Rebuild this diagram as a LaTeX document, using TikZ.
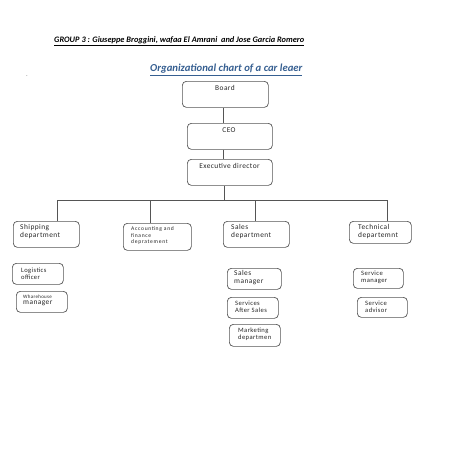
\documentclass[tikz,border=0pt]{standalone}
\usepackage{fontspec}
\setmainfont{Carlito}
\newfontfamily\spaced[LetterSpace=6]{Carlito}
\newfontfamily\wide[LetterSpace=12]{Carlito}
\definecolor{headblue}{RGB}{54,95,145}
\definecolor{edge}{RGB}{85,85,85}
\tikzset{
  box/.style={draw=edge, line width=0.7pt, rounded corners=4pt, inner sep=0pt, anchor=north west},
  lbl/.style={font=\spaced\fontsize{7.4}{8}\selectfont, align=left, inner sep=0pt, anchor=north west, text=black!85},
  ctr/.style={font=\spaced\fontsize{7.4}{8}\selectfont, inner sep=0pt, text=black!85},
  wire/.style={draw=edge, line width=0.7pt}
}
\begin{document}
\begin{tikzpicture}[x=1pt,y=-1pt]
\useasboundingbox (0,0) rectangle (453,453);
% titles
\node[inner sep=0pt, anchor=west, font=\fontsize{8.35}{9}\selectfont\bfseries\itshape] (title) at (54,41)
  {\underline{GROUP 3 : Giuseppe Broggini, wafaa El Amrani\ \ and Jose Garcia Romero}};
\node[inner sep=0pt, anchor=west, text=headblue, font=\fontsize{10.7}{12}\selectfont\bfseries\itshape] (sub) at (150,70)
  {\underline{Organizational chart of a car leaer}};
\node[inner sep=0pt, font=\fontsize{5}{6}\selectfont] (dot) at (27,76) {.};
% top chain
\node[box, minimum width=86pt, minimum height=26pt] (board) at (182,81) {};
\node[ctr] (tboard) at (225,88) {Board};
\node[box, minimum width=85pt, minimum height=26pt] (ceo) at (187,123) {};
\node[ctr] (tceo) at (229,130) {CEO};
\node[box, minimum width=85pt, minimum height=26pt] (exec) at (187,159) {};
\node[ctr] (texec) at (229.5,166) {Executive director};
% departments
\node[box, minimum width=66pt, minimum height=26pt] (ship) at (13,221) {};
\node[lbl] (tship) at (20,224) {Shipping\\department};
\node[box, minimum width=68pt, minimum height=27pt] (acc) at (123,223) {};
\node[lbl, font=\wide\fontsize{5.6}{6.6}\selectfont] (tacc) at (131,226.5) {Accounting and\\finance\\depratement};
\node[box, minimum width=66pt, minimum height=26pt] (sales) at (223,221) {};
\node[lbl] (tsales) at (231,224) {Sales\\department};
\node[box, minimum width=62pt, minimum height=22pt] (tech) at (349,221) {};
\node[lbl] (ttech) at (358,224) {Technical\\departemnt};
% sub units
\node[box, minimum width=51pt, minimum height=21pt] (log) at (12,263) {};
\node[lbl, font=\spaced\fontsize{6.6}{7.4}\selectfont] (tlog) at (21,267.5) {Logistics\\officer};
\node[box, minimum width=51pt, minimum height=21pt] (ware) at (16,291) {};
\node[lbl, font=\spaced\fontsize{5}{5}\selectfont] (tware1) at (23,294.5) {Wharehouse};
\node[lbl, font=\spaced\fontsize{7.4}{8}\selectfont] (tware2) at (23,301) {manager};
\node[box, minimum width=54pt, minimum height=21pt] (sm) at (227,268) {};
\node[lbl] (tsm) at (234,270.5) {Sales\\manager};
\node[box, minimum width=51pt, minimum height=21pt] (sas) at (227,297) {};
\node[lbl, font=\spaced\fontsize{6.6}{7.6}\selectfont] (tsas) at (235,300.5) {Services\\After Sales};
\node[box, minimum width=51pt, minimum height=22pt] (mkt) at (229,324) {};
\node[lbl, font=\spaced\fontsize{6.6}{7.4}\selectfont] (tmkt) at (238,327.5) {Marketing\\departmen};
\node[box, minimum width=50pt, minimum height=20pt] (svm) at (353,268) {};
\node[lbl, font=\spaced\fontsize{6.6}{7.6}\selectfont] (tsvm) at (361,270.5) {Service\\manager};
\node[box, minimum width=50pt, minimum height=20pt] (sva) at (357,297) {};
\node[lbl, font=\spaced\fontsize{6.6}{7.6}\selectfont] (tsva) at (365,300.5) {Service\\advisor};
% connectors
\coordinate (c1) at (223,0);
\draw[wire] (board.south -| c1) -- (ceo.north -| c1);
\draw[wire] (ceo.south -| c1) -- (exec.north -| c1);
\coordinate (bus) at (224,200);
\coordinate (d1) at (57,200);
\coordinate (d2) at (150,200);
\coordinate (d3) at (255,200);
\coordinate (d4) at (387,200);
\draw[wire] (exec.south -| bus) -- (bus);
\draw[wire] (d1) -- (d4);
\draw[wire] (d1) -- (d1 |- ship.north);
\draw[wire] (d2) -- (d2 |- acc.north);
\draw[wire] (d3) -- (d3 |- sales.north);
\draw[wire] (d4) -- (d4 |- tech.north);
\end{tikzpicture}
\end{document}
